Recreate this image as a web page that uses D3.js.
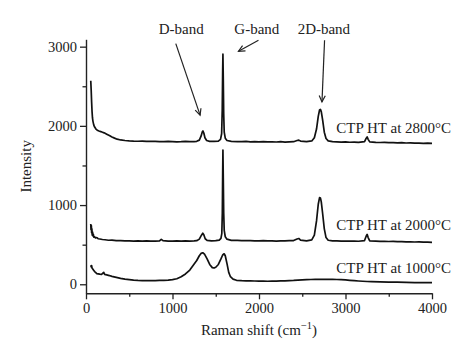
<!DOCTYPE html>
<html>
<head>
<meta charset="utf-8">
<script src="https://cdn.jsdelivr.net/npm/d3@7"></script>
<style>
  body { margin: 0; background: #fff; }
  svg { display: block; }
  text { font-family: "Liberation Serif", "Times New Roman", serif; fill: #222; }
</style>
</head>
<body>
<svg id="chart" width="474" height="361"></svg>
<script>
// ---- data ----
const xTicks = [0, 1000, 2000, 3000, 4000];
const xMinorTicks = [500, 1500, 2500, 3500];
const yTicks = [0, 1000, 2000, 3000];
const yMinorTicks = [500, 1500, 2500];

const seriesNames = ["CTP HT at 2800°C", "CTP HT at 2000°C", "CTP HT at 1000°C"];

const spectrum2800 = [[55,2570],[60,2450],[65,2300],[70,2180],[75,2100],[80,2060],[90,2010],[100,1985],[115,1960],[130,1945],[150,1935],[170,1928],[190,1920],[210,1912],[240,1895],[270,1878],[300,1860],[330,1845],[360,1832],[400,1822],[450,1815],[500,1810],[550,1807],[600,1806],[650,1808],[700,1803],[750,1805],[800,1804],[850,1800],[900,1801],[950,1804],[1000,1802],[1050,1799],[1100,1800],[1150,1803],[1200,1801],[1250,1802],[1280,1805],[1310,1820],[1330,1870],[1345,1925],[1352,1935],[1362,1910],[1375,1850],[1395,1815],[1430,1805],[1480,1803],[1530,1808],[1555,1830],[1568,1900],[1575,2200],[1580,2700],[1583,2905],[1587,2600],[1592,2150],[1598,1920],[1610,1845],[1630,1815],[1680,1805],[1750,1802],[1800,1800],[1850,1803],[1900,1798],[1950,1800],[2000,1799],[2050,1802],[2100,1797],[2150,1799],[2200,1796],[2250,1800],[2300,1795],[2350,1798],[2400,1800],[2440,1815],[2460,1820],[2480,1808],[2550,1800],[2610,1810],[2640,1850],[2665,1960],[2685,2120],[2700,2200],[2710,2208],[2720,2180],[2735,2080],[2755,1920],[2775,1840],[2800,1810],[2850,1800],[2900,1798],[2950,1795],[3000,1797],[3050,1793],[3100,1795],[3150,1792],[3220,1800],[3240,1845],[3250,1860],[3262,1830],[3280,1798],[3350,1792],[3400,1790],[3450,1792],[3500,1788],[3550,1789],[3600,1786],[3650,1788],[3700,1784],[3750,1785],[3800,1782],[3850,1783],[3900,1780],[3950,1781],[4000,1778]];

const spectrum2000 = [[55,760],[58,690],[62,740],[65,650],[68,700],[72,620],[76,660],[80,610],[85,630],[90,595],[100,600],[110,585],[125,590],[140,575],[160,572],[190,565],[220,562],[260,556],[300,558],[350,552],[400,550],[450,548],[500,549],[550,546],[600,548],[650,545],[700,547],[750,544],[800,546],[850,548],[870,568],[890,550],[950,545],[1000,546],[1050,548],[1100,544],[1150,547],[1200,546],[1250,548],[1280,550],[1310,570],[1335,620],[1350,645],[1362,625],[1378,575],[1400,555],[1450,548],[1500,550],[1540,558],[1560,580],[1570,640],[1576,900],[1580,1400],[1583,1695],[1587,1350],[1592,900],[1598,680],[1610,600],[1630,570],[1680,555],[1750,553],[1800,552],[1850,550],[1900,550],[1950,547],[2000,548],[2050,550],[2100,549],[2150,547],[2200,546],[2250,549],[2300,548],[2350,550],[2400,552],[2440,572],[2460,578],[2480,558],[2550,548],[2610,560],[2640,620],[2665,800],[2685,1010],[2700,1095],[2710,1090],[2720,1040],[2735,900],[2755,700],[2775,590],[2800,556],[2850,548],[2900,547],[2950,546],[3000,545],[3050,544],[3100,546],[3150,543],[3220,552],[3240,610],[3250,630],[3262,590],[3280,548],[3350,544],[3400,542],[3450,543],[3500,540],[3550,541],[3600,538],[3650,539],[3700,536],[3750,537],[3800,534],[3850,535],[3900,532],[3950,533],[4000,530]];

const spectrum1000 = [[55,240],[60,220],[65,235],[70,205],[80,190],[90,175],[100,160],[110,150],[125,135],[140,132],[160,128],[180,125],[195,140],[205,150],[215,125],[240,118],[270,110],[300,100],[350,88],[400,75],[450,65],[500,58],[550,52],[600,48],[650,47],[700,46],[750,47],[800,46],[850,48],[900,50],[950,53],[1000,58],[1050,70],[1100,95],[1150,130],[1200,180],[1240,240],[1280,300],[1310,360],[1330,390],[1350,398],[1370,380],[1400,320],[1430,250],[1460,210],[1480,205],[1500,215],[1530,250],[1560,320],[1580,370],[1597,385],[1610,360],[1630,260],[1650,150],[1670,95],[1700,65],[1740,50],[1800,45],[1850,44],[1900,42],[1950,41],[2000,40],[2050,39],[2100,38],[2150,40],[2200,40],[2250,42],[2300,43],[2350,46],[2400,48],[2450,52],[2500,55],[2550,58],[2600,60],[2650,62],[2700,63],[2750,63],[2800,62],[2850,61],[2900,60],[2950,58],[3000,55],[3050,50],[3100,45],[3150,41],[3200,38],[3250,35],[3300,33],[3400,30],[3500,28],[3600,26],[3700,24],[3800,22],[3900,21],[4000,20]];

const seriesLabelPos = [[2894, 1908], [2894, 686], [2894, 146]];

const bandNames = ["D-band", "G-band", "2D-band"];
const bandLabelPos = [[1100, 3160], [1975, 3160], [2750, 3160]];
const bandArrows = [[[1038, 3039], [1319, 2135]], [[1994, 3081], [1763, 2942]], [[2758, 3081], [2728, 2303]]];

// ---- layout ----
const W = 474, H = 361;
const margin = { left: 86, right: 42, top: 39.3, bottom: 67.7 };
const svg = d3.select("#chart");

const x = d3.scaleLinear().domain([0, 4000]).range([margin.left, W - margin.right]);
const y = d3.scaleLinear().domain([-114, 3093]).range([H - margin.bottom, margin.top]);

// axes
const gx = svg.append("g").attr("transform", `translate(0,${H - margin.bottom})`)
  .call(d3.axisBottom(x).tickValues(xTicks).tickSize(6).tickSizeOuter(0).tickPadding(3).tickFormat(d3.format("d")));
const gxm = svg.append("g").attr("transform", `translate(0,${H - margin.bottom})`)
  .call(d3.axisBottom(x).tickValues(xMinorTicks).tickSize(3.5).tickFormat(""));
gxm.select(".domain").remove();

const gy = svg.append("g").attr("transform", `translate(${margin.left},0)`)
  .call(d3.axisLeft(y).tickValues(yTicks).tickSize(6).tickSizeOuter(0).tickPadding(3).tickFormat(d3.format("d")));
const gym = svg.append("g").attr("transform", `translate(${margin.left},0)`)
  .call(d3.axisLeft(y).tickValues(yMinorTicks).tickSize(3.5).tickFormat(""));
gym.select(".domain").remove();

svg.selectAll(".domain").attr("stroke", "#222").attr("stroke-width", 1.4);
svg.selectAll(".tick line").attr("stroke", "#222").attr("stroke-width", 1.3);
svg.selectAll(".tick text").attr("font-family", "Liberation Serif, serif").attr("font-size", 14.5).attr("fill", "#222");

// axis titles
const xt = svg.append("text")
  .attr("x", (x(0) + x(4000)) / 2 + 0).attr("y", 335)
  .attr("text-anchor", "middle").attr("font-size", 15);
xt.append("tspan").text("Raman shift (cm");
xt.append("tspan").attr("dy", -6).attr("font-size", 10.5).text("−1");
xt.append("tspan").attr("dy", 6).text(")");

svg.append("text")
  .attr("transform", `translate(31,${(y.range()[0] + y.range()[1]) / 2}) rotate(-90)`)
  .attr("text-anchor", "middle").attr("font-size", 15).text("Intensity");

// lines
const line = d3.line().x(d => x(d[0])).y(d => y(d[1]));
[spectrum2800, spectrum2000, spectrum1000].forEach(s => {
  svg.append("path").datum(s).attr("d", line)
    .attr("fill", "none").attr("stroke", "#111").attr("stroke-width", 1.7)
    .attr("stroke-linejoin", "round");
});

// series labels
seriesNames.forEach((n, i) => {
  svg.append("text").attr("x", x(seriesLabelPos[i][0])).attr("y", y(seriesLabelPos[i][1]))
    .attr("font-size", 15).text(n);
});

// band labels
bandNames.forEach((n, i) => {
  svg.append("text").attr("x", x(bandLabelPos[i][0])).attr("y", y(bandLabelPos[i][1]))
    .attr("text-anchor", "middle").attr("font-size", 15).text(n);
});

// arrows
bandArrows.forEach(a => {
  const x1 = x(a[0][0]), y1 = y(a[0][1]), x2 = x(a[1][0]), y2 = y(a[1][1]);
  svg.append("line").attr("x1", x1).attr("y1", y1).attr("x2", x2).attr("y2", y2)
    .attr("stroke", "#222").attr("stroke-width", 1.2);
  const ang = Math.atan2(y2 - y1, x2 - x1);
  const L = 7, spread = 0.45;
  const p1 = [x2 - L * Math.cos(ang - spread), y2 - L * Math.sin(ang - spread)];
  const p2 = [x2 - L * Math.cos(ang + spread), y2 - L * Math.sin(ang + spread)];
  svg.append("path").attr("d", `M${p1[0]},${p1[1]}L${x2},${y2}L${p2[0]},${p2[1]}`)
    .attr("fill", "none").attr("stroke", "#222").attr("stroke-width", 1.2);
});
</script>
</body>
</html>
